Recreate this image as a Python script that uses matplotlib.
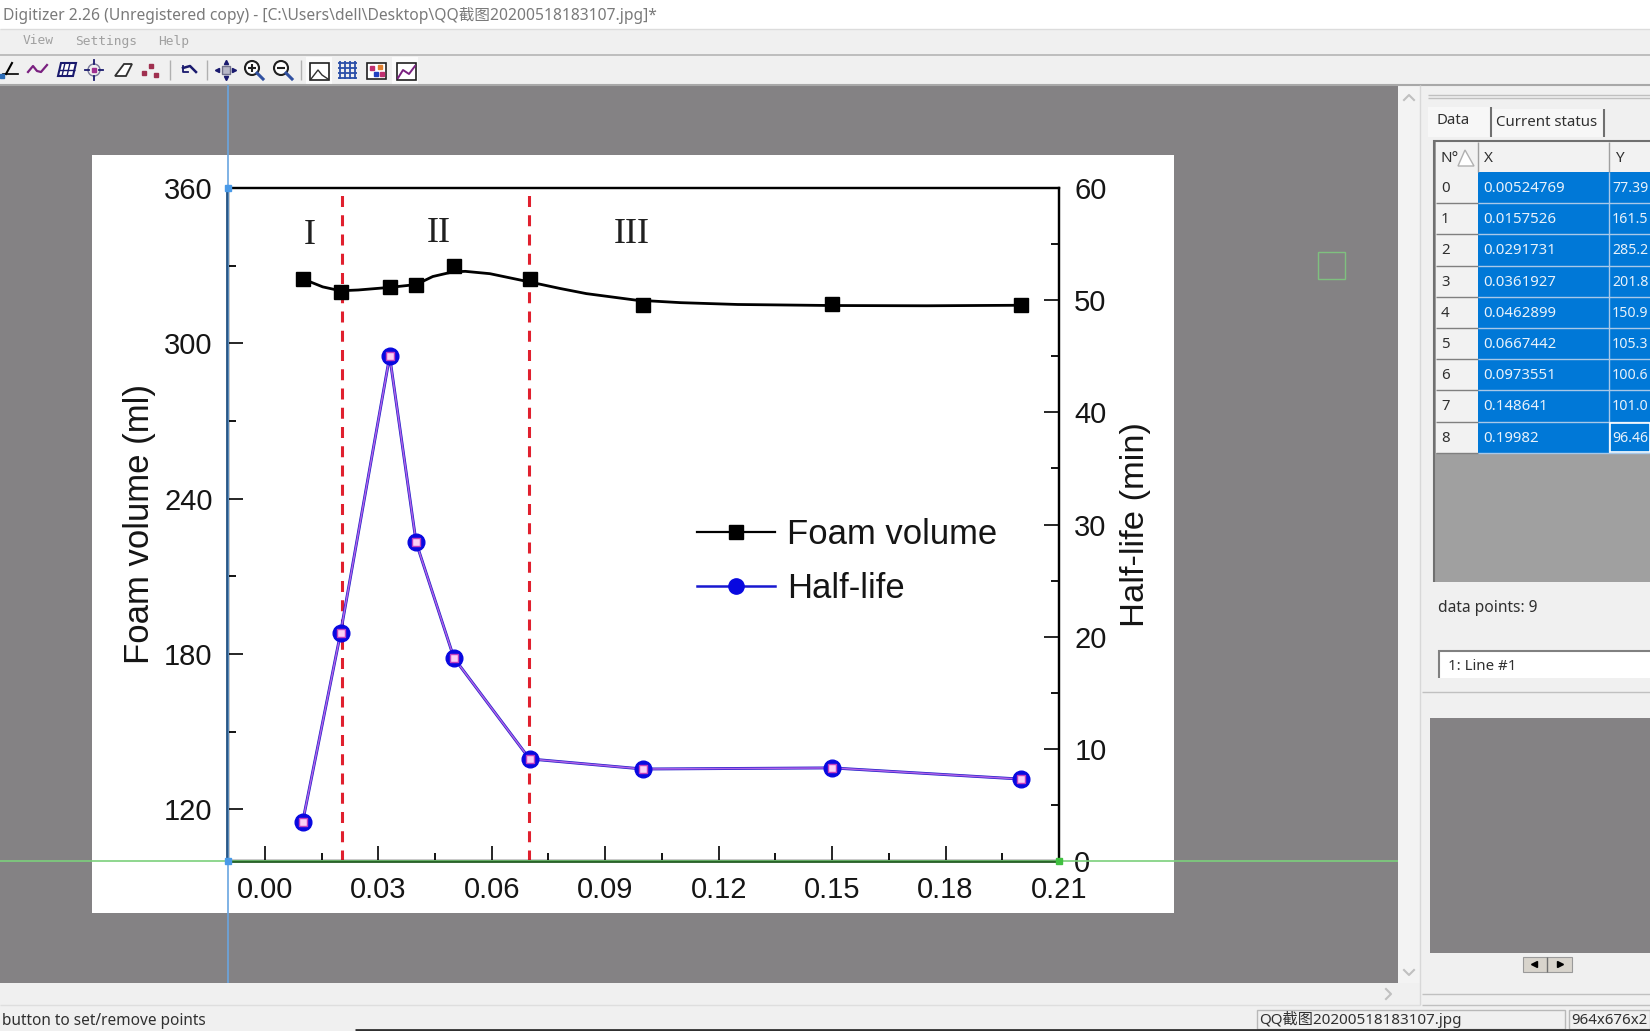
import matplotlib
matplotlib.use('Agg')
import matplotlib.pyplot as plt
import matplotlib.patches as mpatches
from matplotlib.lines import Line2D

W, H = 1650, 1031
UI_FONT = ['Noto Sans', 'Noto Sans CJK SC', 'DejaVu Sans']
ARIAL = 'Liberation Sans'

# chart data
conc = [0.01, 0.02, 0.033, 0.04, 0.05, 0.07, 0.10, 0.15, 0.20]
foam = [324.9, 319.7, 321.6, 322.7, 329.7, 324.7, 314.8, 315.0, 314.8]
half_life = [3.5, 20.3, 45.0, 28.4, 18.1, 9.1, 8.2, 8.3, 7.3]
# smooth foam curve
curve_x = [0.01, 0.0153, 0.02, 0.0247, 0.033, 0.04, 0.0444, 0.0497, 0.053, 0.0595, 0.07, 0.078, 0.085, 0.098, 0.11, 0.125, 0.15, 0.175, 0.20]
curve_y = [324.9, 321.8, 320.3, 320.6, 321.6, 322.7, 325.8, 327.6, 327.8, 326.9, 323.7, 321.2, 319.2, 316.7, 315.7, 315.0, 314.6, 314.5, 314.7]
boundaries = [0.0204, 0.0699]
regions = ['I', 'II', 'III']
region_x = [0.012, 0.0459, 0.097]
region_y = [341.8, 342.6, 342.2]
xticks = [0.00, 0.03, 0.06, 0.09, 0.12, 0.15, 0.18, 0.21]
xminor = [0.015, 0.045, 0.075, 0.105, 0.135, 0.165, 0.195]
yticks = [120, 180, 240, 300, 360]
yminor = [150, 210, 270, 330]
rticks = [0, 10, 20, 30, 40, 50, 60]
rminor = [5, 15, 25, 35, 45, 55]

# digitizer table
row_no = ['0', '1', '2', '3', '4', '5', '6', '7', '8']
table_x = ['0.00524769', '0.0157526', '0.0291731', '0.0361927', '0.0462899', '0.0667442', '0.0973551', '0.148641', '0.19982']
table_y = ['77.39', '161.5', '285.2', '201.8', '150.9', '105.3', '100.6', '101.0', '96.46']

GREY = '#848284'
PANEL = '#f0f0f0'
BLUE_ROW = '#0078d7'

fig = plt.figure(figsize=(16.5, 10.31), dpi=100, facecolor=PANEL)


def px_axes(z):
    a = fig.add_axes([0, 0, 1, 1], zorder=z)
    a.set_xlim(0, W); a.set_ylim(H, 0); a.axis('off')
    a.patch.set_alpha(0)
    return a


bg = px_axes(0)
top = px_axes(3)


def box(a, x0, y0, x1, y1, fc, ec='none', lw=0, z=1):
    a.add_patch(mpatches.Rectangle((x0, y0), x1-x0, y1-y0, facecolor=fc, edgecolor=ec, linewidth=lw, zorder=z))


def hline(a, y, x0, x1, c='#c8c8c8', lw=1, z=2):
    a.plot([x0, x1], [y, y], color=c, lw=lw, zorder=z, solid_capstyle='butt')


def vline(a, x, y0, y1, c='#c8c8c8', lw=1, z=2):
    a.plot([x, x], [y0, y1], color=c, lw=lw, zorder=z, solid_capstyle='butt')


def ui_text(x, y, s, size=10.5, c='#303030', **kw):
    bg.text(x, y+1, s, fontsize=size, color=c, family=UI_FONT, va='center', zorder=6, **kw)


# ===== window frame =====
box(bg, 0, 0, W, 29, 'white')
ui_text(3, 14, 'Digitizer 2.26 (Unregistered copy) - [C:\\Users\\dell\\Desktop\\QQ截图20200518183107.jpg]*', size=11.25, c='#7a7a7a')
hline(bg, 29, 0, W, '#dcdcdc')
for name, x in zip(['View', 'Settings', 'Help'], [23, 75, 158]):
    bg.text(x, 41, name, fontsize=9.3, color='#a0a0a0', family='DejaVu Sans Mono', va='center')
hline(bg, 54.5, 0, W, '#b4b4b4', 1.2)
box(bg, 0, 85, 1398, 983, GREY)
hline(bg, 84.5, 0, W, '#a8a8a8', 1.5)
box(bg, 1398, 85, 1420, 983, '#f3f3f3')
box(bg, 0, 983, 1420, 1005, PANEL)
box(bg, 91.5, 155, 1174, 913, 'white')
hline(bg, 1005, 0, 1420, '#dedede')
ui_text(2, 1020, 'button to set/remove points', size=11.1)
for x0, x1 in [(1257, 1565), (1569, W)]:
    box(bg, x0, 1010, x1, 1029, PANEL, '#b8b8b8', 1)
ui_text(1259, 1019, 'QQ截图20200518183107.jpg', size=10.95)
ui_text(1571, 1019, '964x676x2', size=10.8)
hline(bg, 1030, 355, W, '#303030', 2)

# scroll arrows
bg.plot([1404, 1409, 1414], [100, 95, 100], color='#c0c0c0', lw=1.5)
bg.plot([1404, 1409, 1414], [970, 975, 970], color='#c0c0c0', lw=1.5)
bg.plot([1386, 1391, 1386], [989, 994, 999], color='#c0c0c0', lw=1.5)

# ===== toolbar icons =====
NAVY = '#1a1a6e'
bg.plot([3, 12, 18], [74, 74, 74], color='k', lw=1.2); bg.plot([6, 12], [74, 63], color='k', lw=1.5)
bg.plot([2], [76], 's', color='#2b6cb8', ms=3)
bg.plot([28, 33, 37, 41, 47], [72, 66, 71, 72, 65], color='#7a2080', lw=1.6)
bg.add_patch(mpatches.Polygon([[58, 76], [61, 63], [76, 63], [73, 76]], closed=True, fc='white', ec=NAVY, lw=1.5))
for xg in [63, 68]:
    bg.plot([xg-1, xg+2], [76, 63], color=NAVY, lw=1)
hline(bg, 69.5, 59, 75, NAVY, 1)
bg.plot([94], [70], 's', color='#a03090', ms=3)
bg.add_patch(mpatches.Circle((94, 70), 6, fc='none', ec='#7a7a9a', lw=1))
bg.plot([94, 94], [60, 64], color=NAVY, lw=1.3); bg.plot([94, 94], [76, 80], color=NAVY, lw=1.3)
bg.plot([85, 89], [70, 70], color=NAVY, lw=1.3); bg.plot([99, 103], [70, 70], color=NAVY, lw=1.3)
bg.add_patch(mpatches.Polygon([[115, 76], [124, 64], [132, 64], [126, 76]], closed=True, fc='white', ec='#303030', lw=1.3))
for xp, yp, cp in [(144, 73, '#a03050'), (151, 66, '#a03050'), (156, 75, '#a03050')]:
    bg.plot([xp], [yp], 's', color=cp, ms=3)
vline(bg, 170, 60, 80, '#b0b0b0')
bg.plot([196, 190, 183], [72, 66, 68], color=NAVY, lw=1.8)
bg.plot([183, 183, 188], [66, 72, 72], color=NAVY, lw=1.3)
vline(bg, 207, 60, 80, '#b0b0b0')
box(bg, 222, 66, 230, 74, '#b8b8c8', '#70708a', 1)
for mk, mx, my in [('^', 225.5, 62), ('v', 225.5, 78), ('<', 217, 70), ('>', 234, 70)]:
    bg.plot([mx], [my], mk, color=NAVY, ms=3)
for cx, sign in [(252, '+'), (281, '-')]:
    bg.add_patch(mpatches.Circle((cx, 68), 7, fc='white', ec='#202020', lw=1.5, zorder=3))
    bg.plot([cx+5, cx+11], [73, 79], color='#3050a0', lw=2.2, zorder=3)
    hline(bg, 68, cx-4, cx+4, '#202020', 1.5, 4)
    if sign == '+':
        vline(bg, cx, 64, 72, '#202020', 1.5, 4)
vline(bg, 301, 60, 80, '#b0b0b0')
box(bg, 306, 57, 332, 84, '#fbfbfb')
box(bg, 392, 57, 418, 84, '#fbfbfb')
box(bg, 310, 63, 329, 80, 'white', '#202020', 1.2, 2)
bg.plot([311, 318, 322, 328], [79, 70, 75, 79], color='#303030', lw=1, zorder=3)
for xg in [340, 345, 350, 355]:
    vline(bg, xg, 61, 79, '#2b4fa8', 1.3)
for yg in [63, 68, 73, 78]:
    hline(bg, yg, 338, 357, '#2b4fa8', 1.3)
box(bg, 367, 63, 386, 79, 'white', '#202020', 1.2, 2)
for xp, yp, cp in [(372, 68, '#c03070'), (380, 67, '#e08030'), (376, 74, '#2040c0'), (382, 74, '#c03070')]:
    bg.plot([xp], [yp], 's', color=cp, ms=2.5, zorder=3)
box(bg, 397, 63, 416, 80, 'white', '#202020', 1.2, 2)
bg.plot([398, 403, 409, 415], [78, 70, 74, 66], color='#7a2080', lw=1.4, zorder=3)

# ===== right panel =====
box(bg, 1420, 85, W, H-26, PANEL)
vline(bg, 1420, 85, 1005, '#d8d8d8')
hline(bg, 95, 1428, W, '#c0c0c0'); hline(bg, 98, 1428, W, '#c0c0c0')
box(bg, 1428, 107, 1490, 137, '#f7f7f7')
vline(bg, 1490.5, 107, 137, '#707070', 1.5)
ui_text(1437, 120, 'Data', size=10.8)
box(bg, 1491, 109, 1604, 137, '#f7f7f7')
vline(bg, 1604, 109, 137, '#707070', 1.5)
ui_text(1496, 122, 'Current status', size=10.8)
box(bg, 1433, 140, W, 582, '#a0a0a0')
vline(bg, 1434, 140, 582, '#707070', 1.5)
hline(bg, 140.5, 1433, W, '#707070', 1.5)
box(bg, 1436, 142, W, 172, '#f2f2f2')
ui_text(1441, 157, 'N°', size=11)
bg.add_patch(mpatches.Polygon([[1458, 166], [1465, 150], [1474, 166]], closed=True, fc='white', ec='#b0b0b0', lw=1, zorder=3))
ui_text(1484, 157, 'X', size=11)
ui_text(1615, 157, 'Y', size=11)
vline(bg, 1478, 142, 172, '#a0a0a0'); vline(bg, 1609, 142, 172, '#a0a0a0')
row_h = 31.2
for i, (n, xv, yv) in enumerate(zip(row_no, table_x, table_y)):
    y0 = 172 + i*row_h
    box(bg, 1436, y0, 1478, y0+row_h, '#f2f2f2')
    box(bg, 1478, y0, W, y0+row_h, BLUE_ROW)
    hline(bg, y0+row_h, 1436, 1478, '#808080', 1)
    hline(bg, y0+row_h, 1478, W, '#a8c8e8', 1)
    vline(bg, 1609, y0, y0+row_h, '#a8c8e8')
    ui_text(1441, y0+row_h/2, n, size=10.8)
    ui_text(1483, y0+row_h/2, xv, size=10.8, c='#e8f2fb')
    ui_text(1612, y0+row_h/2, yv, size=10.2, c='#e8f2fb')
box(bg, 1610, 422.5, W, 451.5, BLUE_ROW, 'white', 1.2, 3)
ui_text(1438, 607, 'data points: 9', size=11.2)
box(bg, 1438, 650, W, 678, 'white')
hline(bg, 650.5, 1438, W, '#808080', 1.5); vline(bg, 1438.5, 650, 678, '#808080', 1.5)
ui_text(1448, 665, '1: Line #1', size=10.8)
hline(bg, 692, 1422, W, '#c0c0c0')
box(bg, 1430, 718, W, 953, GREY)
box(bg, 1523, 957, 1572, 972, '#d8d4cc', '#9a9a9a', 0.8)
vline(bg, 1547, 957, 972, '#707070')
bg.plot([1534], [964], '<', color='k', ms=5, zorder=3)
bg.plot([1560], [964], '>', color='k', ms=5, zorder=3)
hline(bg, 994, 1422, W, '#c0c0c0'); hline(bg, 1005, 1422, W, '#c0c0c0')

# green zoom window marker
box(bg, 1318, 252, 1345, 279, 'none', '#7fc07f', 1, 3)

# ===== chart =====
ax = fig.add_axes([228/W, 1-861/H, 831/W, 673/H], zorder=1)
ax.patch.set_alpha(0)
ax.set_xlim(-0.00975, 0.21); ax.set_ylim(100, 360)
ax.set_xticks(xticks); ax.set_xticks(xminor, minor=True)
ax.set_xticklabels([f'{v:.2f}' for v in xticks])
ax.set_yticks(yticks); ax.set_yticks(yminor, minor=True)
ax.tick_params(which='major', direction='in', length=11, width=1.3, labelsize=21, top=False, labelfontfamily=ARIAL, pad=11, colors='#151515')
ax.tick_params(which='minor', direction='in', length=5.5, width=1.3, top=False)
ax.set_ylabel('Foam volume (ml)', fontsize=25, family=ARIAL, color='#151515')
ax.yaxis.set_label_coords((156-228)/831, 0.5)
for s in ax.spines.values():
    s.set_linewidth(1.6)

ax2 = ax.twinx()
ax2.patch.set_alpha(0)
ax2.set_ylim(0, 60)
ax2.set_yticks(rticks); ax2.set_yticks(rminor, minor=True)
ax2.tick_params(which='major', direction='in', length=11, width=1.3, labelsize=21, labelfontfamily=ARIAL, pad=11, colors='#151515')
ax2.tick_params(which='minor', direction='in', length=5.5, width=1.3)
ax2.set_ylabel('Half-life (min)', fontsize=24.8, family=ARIAL, color='#151515')
ax2.yaxis.set_label_coords((1120-228)/831, 0.5)
for s in ax2.spines.values():
    s.set_linewidth(1.6)

for b in boundaries:
    ax.plot([b, b], [100, 358], color='#e0202e', lw=2.2, dashes=(3.6, 2.7), zorder=3)
for name, rx, ry in zip(regions, region_x, region_y):
    ax.text(rx, ry, name, fontsize=26, family='Liberation Serif', ha='center', va='center', color='#202020')

ax.plot(curve_x, curve_y, color='k', lw=2, zorder=4)
ax.plot(conc, foam, 's', color='k', ms=10, zorder=5, clip_on=False)
ax2.plot(conc, half_life, '-', color='#2020c8', lw=2.1, zorder=4)
ax2.plot(conc, half_life, '-', color='#b060e8', lw=1.1, zorder=5)
ax2.plot(conc, half_life, 'o', color='#0808e0', ms=12, zorder=6)
ax2.plot(conc, half_life, 's', mfc='#fbd0f4', mec='#c040c0', mew=1, ms=5.5, zorder=7)

handles = [
    Line2D([], [], color='k', lw=1.6, marker='s', ms=10),
    Line2D([], [], color='#1818d0', lw=1.8, marker='o', mfc='#0808e0', mec='#0808e0', ms=11),
]
ax.legend(handles, ['Foam volume', 'Half-life'], frameon=False, loc='center left',
          bbox_to_anchor=(0.527, 0.445), prop={'family': ARIAL, 'size': 24.9},
          handlelength=2.25, handletextpad=0.35, labelspacing=0.62, labelcolor='#151515')

# ===== digitizer overlay lines =====
vline(top, 228, 85, 983, '#6aa6e0', 1.2, 5)
vline(top, 226.8, 190, 860, '#1f4f80', 1.2, 5)
hline(top, 861, 0, 1398, '#7ccf7c', 1.2, 5)
hline(top, 862, 228, 1059, '#1c5a1c', 1.2, 5)
top.plot([228, 228], [188, 861], 's', color='#4a9ae8', ms=4, zorder=6)
top.plot([1059], [861], 's', color='#40c040', ms=4, zorder=6)

plt.savefig('out.png', dpi=100, facecolor=fig.get_facecolor())
